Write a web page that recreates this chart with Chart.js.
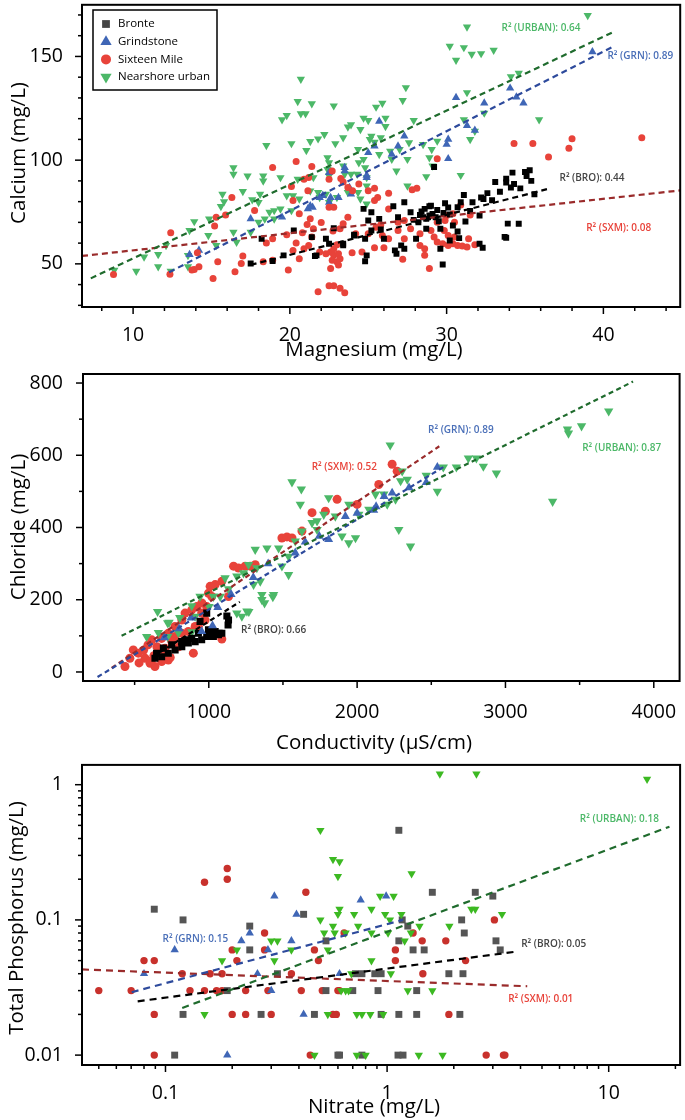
<!DOCTYPE html>
<html><head><meta charset="utf-8">
<script src="https://cdn.jsdelivr.net/npm/chart.js@4.4.1/dist/chart.umd.min.js"></script>
<style>
html,body{margin:0;padding:0;background:#fff;}
body{width:685px;height:1120px;position:relative;overflow:hidden;}
.panel{position:absolute;left:0;width:685px;}
</style></head><body>
<div class="panel" style="top:0;height:362px"><canvas id="c1"></canvas></div>
<div class="panel" style="top:362px;height:398px"><canvas id="c2"></canvas></div>
<div class="panel" style="top:760px;height:360px"><canvas id="c3"></canvas></div>
<script>
// ================= DATA =================
// Panel 1 : Magnesium (x) vs Calcium (y)
const p1Bronte = [[29.2,96.7],[33.1,89.5],[33.8,91.1],[33.8,89.2],[34.2,94],[35.0,94.3],[35.3,95.1],[35.1,92.4],[35.4,90],[34.1,86.8],[34.7,86.4],[33.4,84.8],[35.6,83.6],[32.6,84.1],[32.2,82],[32.35,81.3],[31.1,83.2],[31.65,79.7],[32.1,73.3],[30.9,79.7],[30.7,77.3],[29.9,79.2],[29,78],[28.4,75.2],[28.3,73.6],[28.5,72.5],[28.7,71.7],[28.9,73.3],[29.1,74.1],[29.3,72.5],[27.7,74.9],[27.3,79.7],[26.6,77.8],[26.9,72.5],[28.2,70.1],[28.7,66.9],[28.05,62.1],[29.6,66.9],[30.7,65.6],[30.8,62.4],[30.2,61.3],[29.6,57.3],[32.3,57.8],[32.1,59.7],[33.8,62.6],[34.6,69.3],[29.75,49.7],[27.1,58.9],[27.3,57.3],[26.7,56.5],[26.8,54.9],[26,62.1],[25.8,66.6],[25.2,66.1],[25.2,74.9],[24.7,76.5],[25,70.9],[25.7,71.7],[24.1,63.7],[24.8,62.1],[24.8,51.3],[24.9,54.1],[23.4,58.9],[22.8,67.2],[22.3,62.1],[21.4,62.9],[21.6,53.8],[20.25,66.1],[19.6,54.1],[21.7,54.1],[22.5,59.7],[23.4,59.7],[24.1,64],[18.2,62.1],[18.9,51.4],[17.5,50.2],[28.6,76.5],[29.4,76],[29.8,74.5],[28.9,77.8],[29.5,70.5],[30.2,73.8],[27.9,71.2],[30.4,68.5],[31.2,70.4],[33.7,63],[31.5,75.5],[30.1,77.2],[32.9,80.7],[34.3,88.5],[33.9,69.4]];
const p1Grind = [[22.5,94],[21.9,82],[22.1,82.9],[21.15,76.5],[21.45,77.3],[21.3,78],[22.5,79.6],[23.1,82],[17.5,71.7],[19.5,72.5],[13.6,54.5],[14.2,56.5],[22.6,82],[24.9,91.6],[39.3,152.2],[34.05,134.7],[34.45,130.4],[34.9,127.5],[30.6,130.2],[32.4,127.5],[31.3,116.7],[31.8,114.4],[25.7,118.7],[25.4,106.8],[25,103.6],[26.5,102.8],[26.9,106.8],[27.3,111.6],[30,107.6],[30.1,110],[30.1,100.7],[23.5,96.4],[24.9,92.7],[23.9,83.6],[23.8,86.8],[23.5,94.8]];
const p1Sixteen = [[20.4,99.3],[18.9,96.4],[21.4,96.9],[22.7,94.8],[22.5,90.8],[22.5,77.3],[22.8,77.3],[21.2,91.6],[20.9,90.8],[20.1,87.3],[20.2,80.5],[21.15,85.2],[16.3,82],[15.9,73.6],[15.2,68.2],[17.75,75.7],[15.3,72.5],[12.4,65],[14.1,55.4],[14.2,48.6],[13.9,47.3],[13.75,47],[15.4,51],[17,53.8],[16.9,50.2],[16.5,46.2],[15.1,43],[12.35,45],[8.75,44.9],[18.3,51],[18.9,51.7],[19.9,47],[20.6,52.5],[20.2,56.5],[20.9,57.3],[21.2,58.9],[21.4,62.9],[21.5,66.9],[21.9,55.7],[22.3,54.9],[22.6,55.7],[22.8,54.1],[22.7,51.7],[23,51],[22.6,47.8],[22.8,57.3],[23,59.2],[18.5,60],[18.9,62.1],[21.8,36.6],[22.5,39.5],[22.8,39.5],[23.2,38.2],[23.5,36.1],[20.6,74.1],[21.3,71.7],[22.75,65.8],[20.8,65],[21.1,69],[19.8,64],[22,70],[20.4,60],
  [34.3,108],[35.5,108],[36.5,101.5],[29.4,100.7],[23.25,91.1],[23.7,86.8],[24.0,85.2],[25,85.2],[25.4,86.4],[25.6,82],[26.3,84.1],[25.4,80.5],[26.3,76.5],[28.1,86.4],[27.8,85.7],[23.7,72.5],[23.4,69.3],[23.2,66.9],[23.1,54.9],[23.2,52.5],[23.1,49.4],[23.97,55.4],[24.6,55.7],[25.4,57.8],[26.0,57.8],[26.3,62.1],[25.9,63.7],[25.5,67.7],[25.8,68.8],[25,64.5],[24.2,64.5],[26.9,70.1],[27.3,70.9],[27.7,66.9],[26.9,66.1],[27.3,62.1],[27.2,52.2],[28.6,54.1],[28.9,47.8],[28.3,58.9],[29.4,70.1],[29.9,70.9],[30,73.3],[30.4,74.1],[30.9,78.4],[31.5,73.6],[30.5,70.1],[29,66.1],[29.2,62.9],[29.4,60.5],[29.75,59.7],[30.1,58.9],[30.4,59.7],[30.5,62.9],[30.7,58.9],[31,58.6],[31.3,58.1],[31.4,62.1],[31.8,59.2],[30.1,63.7],[29.85,66.1],[28.3,64.5],[28.6,57.3],[37.8,105.7],[38,110.3],[42.45,110.8],[23.4,89.5],[24.4,88.5]];
const p1Urban = [[20.7,139],[20.5,128.3],[21.4,127.2],[22.8,126.2],[19.5,119.5],[19.8,121.6],[20.7,122.4],[21,122.4],[21.8,110.3],[22.2,112.4],[18.5,107.1],[20.1,108],[21.05,104.7],[21.3,109],[22.9,108],[16.4,96.4],[16.4,93.2],[17.3,92.4],[18.3,92.4],[19.4,91.6],[18.3,90],[22.4,101.2],[22.5,98.8],[22.4,95.6],[22.5,92.4],[20.5,90.8],[20.6,81.3],[21.3,85.2],[21.5,91.6],[20.2,82.9],[21.8,84.4],[21.9,82],[22.3,83.6],[22.5,79.6],[23.0,82],[19.8,82.9],[19.4,76.5],[20.1,75.7],[19,75.7],[18.1,83.6],[18,79.6],[17.6,80.9],[17,84.9],[15.8,80],[15.6,77.7],[15.7,83.6],[18.7,74.9],[18.4,71.7],[18,70.1],[19,71.7],[14.85,71.7],[14.8,63.7],[13.9,70.4],[13.6,66.1],[15.3,58.9],[16.4,65.3],[16.6,60.5],[17.5,65.3],[13.5,54.1],[12.1,58.9],[11.6,54.5],[10.7,53.3],[11.6,48.6],[10.2,46.5],[8.8,47],[13.5,48.6],[12.4,46.5],
  [39,169.8],[31.3,164.2],[30.2,155],[31.1,154.3],[31.6,151.1],[32.2,151.4],[33,153],[30.6,148.2],[34.1,140.3],[34.6,141.9],[31.3,132.6],[27.4,135],[27.2,128.8],[25.9,127.5],[25.5,125.6],[24.7,120.3],[25,119.2],[23.9,117.1],[23.7,116],[24.5,114.8],[23.4,110.8],[26.1,120.3],[26.1,116.3],[27.9,119.2],[25.2,111.6],[25.1,110],[25.8,110.8],[25.4,108.7],[27,105.2],[26.4,104.4],[27.6,108.4],[27.5,100.4],[26.5,100.4],[25.7,102.8],[24.7,100.4],[24.35,105.2],[28.5,107.6],[29.05,105.2],[29.4,109.2],[28.9,101.2],[31.1,119.5],[31.8,114],[31.5,110],[32.4,122.7],[35.9,119.5],
  [24.4,98.8],[24.8,96.4],[23.4,97.2],[23.5,93.2],[23.9,93.2],[24.3,93.2],[24.9,91.6],[24.9,87.6],[24.35,84.4],[24.5,81.3],[24.9,78.9],[26.8,94.8],[27.5,87.6],[28.7,92.1],[29.1,97.2],[30.9,92.7],[23.7,84.4]];
const p1LineUrban = [[7.3,43],[40.7,162]];
const p1LineGrind = [[12.3,46],[40.7,155]];
const p1LineBronte = [[17.5,49.5],[36.4,86]];
const p1LineSixteen = [[6.74,53.8],[44.9,85.4]];
const p1XMajor = [10,20,30,40];
const p1XMinor = [8,12,14,16,18,22,24,26,28,32,34,36,38,42,44];
const p1YMajor = [50,100,150];
const p1YMinor = [30,40,60,70,80,90,110,120,130,140,160,170];

// Panel 2 : Conductivity (x) vs Chloride (y)
const p2Bronte = [[1133,144],[1122,155],[1070,107],[1043,112],[1020,103],[986,98],[952,89],[908,84],[862,80],[818,70],[773,61],[727,52],[682,42],[637,38],[930,107],[885,93],[851,89],[817,84],[750,75],[694,66],[648,52],[941,140],[986,163],[998,117],[1031,98],[1065,103],[1088,107],[1130,130]];
const p2Grind = [[1061,179],[1025,128],[952,112],[1583,330],[1745,376],[1808,367],[1921,431],[2112,448],[2236,496],[2466,525],[2541,567],[2128,458],[2182,486],[700,95],[800,120],[880,150],[1150,215],[1300,262],[1400,300],[1650,360],[2000,440],[2350,510]];
const p2Sixteen = [[435,15],[468,38],[491,61],[525,52],[570,38],[604,24],[637,15],[682,29],[727,33],[660,52],[705,66],[615,89],[682,93],[773,98],[818,107],[862,112],[896,52],[1088,91],[930,126],[975,144],[986,181],[1020,209],[1009,237],[1043,242],[1088,251],[1133,209],[1167,293],[1200,288],[1245,293],[1279,293],[1313,297],[1493,371],[1527,374],[1561,371],[1628,390],[1696,441],[1786,445],[1865,478],[2000,464],[2146,519],[2236,575],[2270,556],[772,126],[818,144],[727,107],[840,163],[885,172],[919,181],[953,191],[998,218],[952,163],[908,126],[560,60],[590,75],[630,45],[700,50],[750,85],[800,70],[530,25],[610,30],[650,70],[740,40]];
const p2Urban = [[581,98],[660,109],[732,137],[723,98],[795,109],[908,154],[941,209],[885,183],[1002,181],[1031,209],[1110,260],[1189,265],[1133,230],[1234,274],[1257,168],[1358,214],[1376,191],[1437,214],[1302,242],[1347,251],[1324,288],[1268,297],[1313,339],[1392,343],[1471,343],[1538,269],[1493,293],[1538,320],[1583,362],[1628,390],[1696,413],[1730,418],[1775,436],[1624,506],[1617,464],[1561,526],[1808,482],[1944,464],[1898,376],[1944,357],[1989,371],[2011,436],[2079,450],[2124,492],[2180,492],[2203,464],[2259,478],[2293,529],[2338,533],[2281,394],[2360,348],[1853,431],[1730,394],[1077,209],[1189,163],[1223,154],[2223,628],[3318,472],[3418,672],[3425,661],[3513,681],[3696,722],[2939,550],[2851,569],[2804,592],[2750,592],[2669,567],[2581,567],[2541,500],[2466,544],[2304,556],[655,167],[804,150],[723,136],[885,111],[1358,200],[1432,208],[1270,167]];
const p2LineUrban = [[412,100],[3860,804]];
const p2LineGrind = [[250,-14],[2600,572]];
const p2LineSixteen = [[345,11],[2554,625]];
const p2LineBronte = [[622,42],[1209,194]];
const p2XMajor = [1000,2000,3000,4000];
const p2XMinor = [500,1500,2500,3500];
const p2YMajor = [0,200,400,600,800];
const p2YMinor = [100,300,500,700];

// Panel 3 : Nitrate (x) vs Total Phosphorus (y), log-log
const p3Bronte = [[0.089,0.12],[0.12,0.1],[0.11,0.01],[0.12,0.02],[0.24,0.09],[0.24,0.06],[0.27,0.02],[0.19,0.03],[0.32,0.04],[0.42,0.11],[0.47,0.02],[0.53,0.07],[0.53,0.03],[0.61,0.01],[1.13,0.46],[1.6,0.16],[2.5,0.16],[3.0,0.15],[1.17,0.1],[1.24,0.09],[2.17,0.1],[2.23,0.08],[3.1,0.07],[3.24,0.06],[1.13,0.07],[1.31,0.06],[1.47,0.06],[1.9,0.04],[2.2,0.04],[0.77,0.04],[0.88,0.04],[0.94,0.04],[0.7,0.03],[0.91,0.03],[1.36,0.03],[0.94,0.02],[1.13,0.02],[1.36,0.02],[2.13,0.02],[0.6,0.01],[0.77,0.01],[1.12,0.01],[1.18,0.01],[0.72,0.04]];
const p3Grind = [[0.08,0.04],[0.11,0.06],[0.22,0.07],[0.24,0.08],[0.31,0.15],[0.26,0.04],[0.29,0.06],[0.3,0.03],[0.37,0.07],[0.39,0.11],[0.42,0.02],[0.19,0.01],[0.61,0.04],[0.76,0.14],[0.99,0.15]];
const p3Sixteen = [[0.05,0.03],[0.07,0.03],[0.08,0.05],[0.089,0.05],[0.089,0.02],[0.089,0.01],[0.119,0.04],[0.129,0.03],[0.15,0.19],[0.15,0.03],[0.159,0.04],[0.18,0.04],[0.17,0.03],[0.19,0.24],[0.19,0.2],[0.2,0.06],[0.21,0.05],[0.2,0.02],[0.23,0.03],[0.23,0.02],[0.28,0.08],[0.28,0.06],[0.29,0.03],[0.3,0.02],[0.37,0.04],[0.41,0.03],[0.43,0.16],[0.47,0.06],[0.49,0.05],[0.45,0.01],[0.51,0.03],[0.57,0.02],[0.59,0.02],[0.61,0.03],[1.09,0.06],[1.09,0.05],[1.31,0.08],[1.44,0.07],[1.45,0.04],[1.84,0.07],[1.9,0.02],[2.26,0.05],[3.05,0.1],[2.8,0.01],[3.35,0.01],[3.4,0.01],[0.64,0.08],[0.6,0.03],[0.18,0.03]];
const p3Urban = [[0.15,0.02],[0.18,0.05],[0.21,0.06],[0.30,0.07],[0.32,0.07],[0.31,0.05],[0.37,0.06],[0.5,0.46],[0.5,0.1],[0.52,0.08],[0.54,0.06],[0.57,0.09],[0.58,0.08],[0.57,0.28],[0.61,0.27],[0.6,0.21],[0.6,0.11],[0.61,0.12],[0.47,0.01],[0.54,0.02],[0.65,0.03],[0.65,0.08],[1.73,1.2],[2.53,1.2],[14.9,1.1],[1.29,0.22],[0.93,0.15],[1.07,0.15],[0.71,0.11],[0.85,0.12],[0.98,0.11],[1.03,0.1],[1.16,0.11],[2.4,0.12],[2.5,0.12],[3.3,0.11],[0.74,0.09],[0.85,0.08],[1.01,0.08],[1.4,0.09],[1.91,0.09],[1.2,0.07],[1.28,0.08],[0.85,0.05],[1.04,0.04],[0.69,0.04],[0.67,0.03],[1.24,0.03],[1.6,0.03],[0.73,0.02],[0.77,0.02],[0.84,0.02],[0.96,0.02],[0.73,0.01],[0.8,0.01],[1.39,0.01],[1.78,0.01],[0.62,0.03]];
const p3LineUrban = [[0.119,0.0223],[18.8,0.489]];
const p3LineGrind = [[0.0704,0.0292],[1.18,0.1]];
const p3LineBronte = [[0.0749,0.025],[3.87,0.0584]];
const p3LineSixteen = [[0.042,0.043],[4.29,0.0323]];
const p3XMajor = [0.1,1,10];
const p3XMinor = [0.05,0.06,0.07,0.08,0.09,0.2,0.3,0.4,0.5,0.6,0.7,0.8,0.9,2,3,4,5,6,7,8,9,20];
const p3YMajor = [0.01,0.1,1];
const p3YMinor = [0.02,0.03,0.04,0.05,0.06,0.07,0.08,0.09,0.2,0.3,0.4,0.5,0.6,0.7,0.8,0.9];

// ================= STYLE / HELPERS =================
const FONT = "'Open Sans', 'DejaVu Sans', sans-serif";
const C = {
  bro:'#000000', bro3:'#555555', broLeg:'#444444',
  grn:'#3f66b6', sxm:'#e8433a', sxm3:'#c8312c', urb:'#4cb868', urb3:'#3cb922',
  lUrb:'#1f6b2d', lGrn:'#2d4a9c', lBro:'#000000', lSxm:'#9a2b2b',
  tUrb:'#4cb868', tGrn:'#4a6fb8', tBro:'#444444', tSxm:'#e8433a'
};

function pts(label, data, color, style, r, rot) {
  return {label, data, backgroundColor:color, borderColor:color, pointBackgroundColor:color,
    pointBorderWidth:0, pointStyle:style, pointRadius:r, pointHoverRadius:r,
    pointRotation:rot||0, showLine:false};
}
function fit(label, data, color, dash) {
  return {label, data, borderColor:color, backgroundColor:color, borderWidth:2.2, borderDash:dash,
    pointRadius:0, pointHoverRadius:0, showLine:true, fill:false, tension:0};
}
function axis(o) {
  return {
    type:o.type, min:o.min, max:o.max, position:o.position,
    afterFit(s){
      if (s.isHorizontal()) s.height = o.size; else s.width = o.size;
      s.paddingTop = 0; s.paddingBottom = 0; s.paddingLeft = 0; s.paddingRight = 0;
    },
    afterBuildTicks(s){ s.ticks = o.major.map(v => ({value:v})); },
    grid:{display:false}, border:{display:false},
    ticks:{color:'#000', font:{family:FONT, size:19.5}, padding:o.pad, autoSkip:false,
      maxRotation:0, minRotation:0, callback:(v)=>String(v)}
  };
}

const deco = {
  id:'deco',
  afterDatasetsDraw(chart) {
    const o = chart.options.plugins.deco; if (!o) return;
    const ctx = chart.ctx, a = chart.chartArea, xs = chart.scales.x, ys = chart.scales.y;
    ctx.save();
    // R² annotations
    ctx.font = `600 10px ${FONT}`; ctx.textAlign = 'left'; ctx.textBaseline = 'middle';
    for (const l of o.labels) {
      ctx.fillStyle = l.color;
      ctx.fillText(l.text, xs.getPixelForValue(l.x), ys.getPixelForValue(l.y));
    }
    // frame
    ctx.strokeStyle = '#000'; ctx.lineWidth = 2;
    ctx.strokeRect(a.left, a.top, a.right - a.left, a.bottom - a.top);
    // tick marks
    ctx.lineWidth = 1.5;
    const tick = (s, vals, len) => {
      for (const v of vals) {
        const p = s.getPixelForValue(v);
        ctx.beginPath();
        if (s.isHorizontal()) { ctx.moveTo(p, a.bottom); ctx.lineTo(p, a.bottom + len); }
        else { ctx.moveTo(a.left, p); ctx.lineTo(a.left - len, p); }
        ctx.stroke();
      }
    };
    tick(xs, o.xMajor, 7); tick(xs, o.xMinor, 4); tick(ys, o.yMajor, 7); tick(ys, o.yMinor, 4);
    // axis titles
    ctx.fillStyle = '#000'; ctx.font = `20.5px ${FONT}`; ctx.textAlign = 'center'; ctx.textBaseline = 'middle';
    ctx.fillText(o.xTitle.text, o.xTitle.cx, o.xTitle.cy);
    ctx.save(); ctx.translate(o.yTitle.cx, o.yTitle.cy); ctx.rotate(-Math.PI / 2);
    ctx.fillText(o.yTitle.text, 0, 0); ctx.restore();
    // legend
    if (o.legend) {
      const L = o.legend;
      ctx.fillStyle = '#fff'; ctx.fillRect(L.x, L.y, L.w, L.h);
      ctx.strokeStyle = '#000'; ctx.lineWidth = 1.5; ctx.strokeRect(L.x, L.y, L.w, L.h);
      ctx.font = `11.5px ${FONT}`; ctx.textAlign = 'left'; ctx.textBaseline = 'middle';
      L.items.forEach((it, i) => {
        const yy = L.y + L.rowTop + i * L.rowGap;
        ctx.fillStyle = it.color;
        Chart.helpers.drawPoint(ctx, {pointStyle:it.style, radius:it.r, rotation:it.rot || 0, borderWidth:0}, L.x + L.markX, yy);
        ctx.fillStyle = '#000';
        ctx.fillText(it.text, L.x + L.textX, yy);
      });
    }
    ctx.restore();
  }
};
Chart.register(deco);

function base(pad, scales, decoOpts) {
  return {
    responsive:true, maintainAspectRatio:false, animation:false, events:[],
    layout:{padding:pad},
    plugins:{legend:{display:false}, tooltip:{enabled:false}, deco:decoOpts},
    scales
  };
}

// ================= PANEL 1 =================
new Chart(document.getElementById('c1'), {
  type:'scatter',
  data:{datasets:[
    fit('URBAN fit', p1LineUrban, C.lUrb, [6,4]),
    fit('GRN fit', p1LineGrind, C.lGrn, [6,4]),
    fit('BRO fit', p1LineBronte, C.lBro, [6,4]),
    fit('SXM fit', p1LineSixteen, C.lSxm, [6,4]),
    pts('Bronte', p1Bronte, C.bro, 'rect', 4.2),
    pts('Sixteen Mile', p1Sixteen, C.sxm, 'circle', 3.5),
    pts('Grindstone', p1Grind, C.grn, 'triangle', 4.8),
    pts('Nearshore urban', p1Urban, C.urb, 'triangle', 4.8, 180)
  ]},
  options: base({top:1, right:2, left:0, bottom:0}, {
    x: axis({type:'linear', min:6.74, max:44.9, position:'bottom', size:55, pad:9, major:p1XMajor}),
    y: axis({type:'linear', min:29.2, max:174.9, position:'left', size:82, pad:11, major:p1YMajor})
  }, {
    xMajor:p1XMajor, xMinor:p1XMinor, yMajor:p1YMajor, yMinor:p1YMinor,
    xTitle:{text:'Magnesium (mg/L)', cx:374, cy:350},
    yTitle:{text:'Calcium (mg/L)', cx:19, cy:153},
    labels:[
      {text:'R² (URBAN): 0.64', color:C.tUrb, x:33.5, y:163.5},
      {text:'R² (GRN): 0.89', color:C.tGrn, x:40.26, y:150.1},
      {text:'R² (BRO): 0.44', color:C.tBro, x:37.2, y:91.1},
      {text:'R² (SXM): 0.08', color:C.tSxm, x:38.9, y:67.3}
    ],
    legend:{x:93, y:10, w:124, h:80, markX:13, textX:25, rowTop:14, rowGap:17.7, items:[
      {text:'Bronte', color:C.broLeg, style:'rect', r:5.5},
      {text:'Grindstone', color:C.grn, style:'triangle', r:6.5},
      {text:'Sixteen Mile', color:C.sxm, style:'circle', r:5},
      {text:'Nearshore urban', color:C.urb, style:'triangle', r:6.5, rot:180}
    ]}
  })
});

// ================= PANEL 2 =================
new Chart(document.getElementById('c2'), {
  type:'scatter',
  data:{datasets:[
    fit('URBAN fit', p2LineUrban, C.lUrb, [5,3.5]),
    fit('GRN fit', p2LineGrind, C.lGrn, [5,3.5]),
    fit('SXM fit', p2LineSixteen, C.lSxm, [5,3.5]),
    fit('BRO fit', p2LineBronte, C.lBro, [5,3.5]),
    pts('Grindstone', p2Grind, C.grn, 'triangle', 5.2),
    pts('Bronte', p2Bronte, C.bro, 'rect', 5),
    pts('Nearshore urban', p2Urban, C.urb, 'triangle', 5.4, 180),
    pts('Sixteen Mile', p2Sixteen, C.sxm, 'circle', 4.5)
  ]},
  options: base({top:12, right:2, left:0, bottom:0}, {
    x: axis({type:'linear', min:152, max:4174, position:'bottom', size:79, pad:12, major:p2XMajor}),
    y: axis({type:'linear', min:-25, max:825, position:'left', size:83, pad:12, major:p2YMajor})
  }, {
    xMajor:p2XMajor, xMinor:p2XMinor, yMajor:p2YMajor, yMinor:p2YMinor,
    xTitle:{text:'Conductivity (µS/cm)', cx:374, cy:381},
    yTitle:{text:'Chloride (mg/L)', cx:19, cy:165},
    labels:[
      {text:'R² (GRN): 0.89', color:C.tGrn, x:2478, y:670},
      {text:'R² (URBAN): 0.87', color:C.tUrb, x:3517, y:620},
      {text:'R² (SXM): 0.52', color:C.tSxm, x:1694, y:568},
      {text:'R² (BRO): 0.66', color:C.tBro, x:1218, y:116}
    ]
  })
});

// ================= PANEL 3 =================
new Chart(document.getElementById('c3'), {
  type:'scatter',
  data:{datasets:[
    fit('URBAN fit', p3LineUrban, C.lUrb, [7,5]),
    fit('GRN fit', p3LineGrind, C.lGrn, [7,5]),
    fit('BRO fit', p3LineBronte, C.lBro, [7,5]),
    fit('SXM fit', p3LineSixteen, C.lSxm, [7,5]),
    pts('Grindstone', p3Grind, C.grn, 'triangle', 4.8),
    pts('Nearshore urban', p3Urban, C.urb3, 'triangle', 4.8, 180),
    pts('Bronte', p3Bronte, C.bro3, 'rect', 4.9),
    pts('Sixteen Mile', p3Sixteen, C.sxm3, 'circle', 3.7)
  ]},
  options: base({top:2, right:2, left:0, bottom:0}, {
    x: axis({type:'logarithmic', min:0.042, max:21, position:'bottom', size:55, pad:9, major:p3XMajor}),
    y: axis({type:'logarithmic', min:0.00845, max:1.401, position:'left', size:82, pad:11, major:p3YMajor})
  }, {
    xMajor:p3XMajor, xMinor:p3XMinor, yMajor:p3YMajor, yMinor:p3YMinor,
    xTitle:{text:'Nitrate (mg/L)', cx:374, cy:347},
    yTitle:{text:'Total Phosphorus (mg/L)', cx:17, cy:158},
    labels:[
      {text:'R² (URBAN): 0.18', color:C.tUrb, x:7.41, y:0.558},
      {text:'R² (GRN): 0.15', color:C.tGrn, x:0.097, y:0.0726},
      {text:'R² (BRO): 0.05', color:C.tBro, x:4.03, y:0.0667},
      {text:'R² (SXM): 0.01', color:C.tSxm, x:3.52, y:0.026}
    ]
  })
});
</script>
</body></html>
